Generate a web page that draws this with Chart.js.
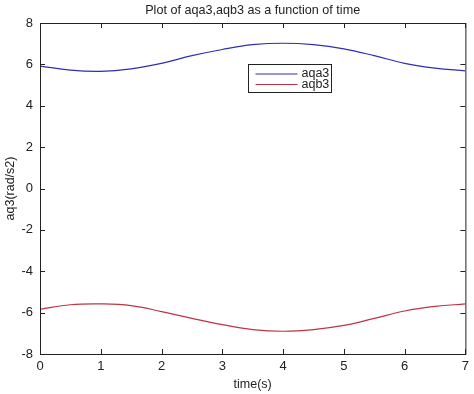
<!DOCTYPE html>
<html>
<head>
<meta charset="utf-8">
<script src="https://cdn.jsdelivr.net/npm/chart.js@4/dist/chart.umd.min.js"></script>
<style>
  html, body { margin: 0; padding: 0; background: #fff; }
  #wrap { width: 474px; height: 394px; }
</style>
</head>
<body>
<div id="wrap"><canvas id="grafik" width="474" height="394"></canvas></div>
<script>
// data
const waktu = [0, 0.5, 1, 1.5, 2, 2.5, 3, 3.5, 4, 4.5, 5, 5.5, 6, 6.5, 7];
const aqa3 = [5.92, 5.72, 5.66, 5.78, 6.05, 6.42, 6.72, 6.95, 7.02, 6.95, 6.75, 6.42, 6.05, 5.82, 5.69];
const aqb3 = [-5.84, -5.62, -5.58, -5.66, -5.95, -6.28, -6.58, -6.82, -6.9, -6.82, -6.62, -6.28, -5.92, -5.7, -5.58];
const labelSeri = ["aqa3", "aqb3"];
const warnaSeri = ["#2f2fb4", "#bd3444"];
const judul = "Plot of aqa3,aqb3 as a function of time";

const fontDasar = "'Liberation Sans', Arial, sans-serif";

// kotak sumbu + tick ke dalam + legenda di dalam area grafik
const kotakPlugin = {
  id: "kotakMatlab",
  afterDraw(chart) {
    const { ctx, chartArea: a, scales } = chart;
    ctx.save();
    ctx.strokeStyle = "#222";
    ctx.lineWidth = 1;
    ctx.strokeRect(a.left + 0.5, a.top + 0.5, a.right - a.left, a.bottom - a.top);

    const tl = 5;
    ctx.beginPath();
    for (let t = 0; t <= 7; t++) {
      const x = Math.round(scales.x.getPixelForValue(t)) + 0.5;
      ctx.moveTo(x, a.bottom); ctx.lineTo(x, a.bottom - tl);
      ctx.moveTo(x, a.top); ctx.lineTo(x, a.top + tl);
    }
    for (let v = -8; v <= 8; v += 2) {
      const y = Math.round(scales.y.getPixelForValue(v)) + 0.5;
      ctx.moveTo(a.left, y); ctx.lineTo(a.left + tl, y);
      ctx.moveTo(a.right, y); ctx.lineTo(a.right - tl, y);
    }
    ctx.stroke();

    // judul
    ctx.fillStyle = "#222";
    ctx.font = "12.6px " + fontDasar;
    ctx.textAlign = "center";
    ctx.textBaseline = "middle";
    ctx.fillText(judul, (a.left + a.right) / 2, 11);

    // legenda
    const lx = 248.5, ly = 64.5, lw = 83, lh = 28;
    ctx.fillStyle = "#fff";
    ctx.fillRect(lx, ly, lw, lh);
    ctx.strokeStyle = "#222";
    ctx.strokeRect(lx, ly, lw, lh);
    ctx.font = "12.5px " + fontDasar;
    labelSeri.forEach((lbl, i) => {
      const yy = ly + 9.5 + i * 10.5;
      ctx.strokeStyle = warnaSeri[i];
      ctx.beginPath();
      ctx.moveTo(lx + 7, yy); ctx.lineTo(lx + 49, yy);
      ctx.stroke();
      ctx.fillStyle = "#222";
      ctx.textAlign = "left";
      ctx.fillText(lbl, lx + 53, yy);
    });
    ctx.restore();
  }
};

const ctx = document.getElementById("grafik").getContext("2d");
window.grafik = new Chart(ctx, {
  type: "line",
  data: {
    datasets: [
      {
        label: labelSeri[0],
        data: waktu.map((t, i) => ({ x: t, y: aqa3[i] })),
        borderColor: warnaSeri[0],
        borderWidth: 1.2,
        pointRadius: 0,
        tension: 0.4,
        fill: false
      },
      {
        label: labelSeri[1],
        data: waktu.map((t, i) => ({ x: t, y: aqb3[i] })),
        borderColor: warnaSeri[1],
        borderWidth: 1.2,
        pointRadius: 0,
        tension: 0.4,
        fill: false
      }
    ]
  },
  options: {
    responsive: false,
    animation: false,
    layout: { padding: { top: 23, right: 7, left: 0, bottom: 0 } },
    plugins: {
      legend: { display: false },
      title: { display: false },
      tooltip: { enabled: false }
    },
    scales: {
      x: {
        type: "linear",
        min: 0,
        max: 7,
        grid: { display: false, drawTicks: false },
        border: { display: false },
        ticks: { stepSize: 1, padding: 5, color: "#222", font: { family: fontDasar, size: 13 }, maxRotation: 0 },
        title: { display: true, text: "time(s)", color: "#222", padding: 2, font: { family: fontDasar, size: 12.5 } },
        afterFit(s) { s.height = 40; }
      },
      y: {
        min: -8,
        max: 8,
        grid: { display: false, drawTicks: false },
        border: { display: false },
        ticks: { stepSize: 2, padding: 7, color: "#222", font: { family: fontDasar, size: 13 } },
        title: { display: true, text: "aq3(rad/s2)", color: "#222", padding: 3, font: { family: fontDasar, size: 12.5 } },
        afterFit(s) { s.width = 40; }
      }
    }
  },
  plugins: [kotakPlugin]
});
</script>
</body>
</html>
